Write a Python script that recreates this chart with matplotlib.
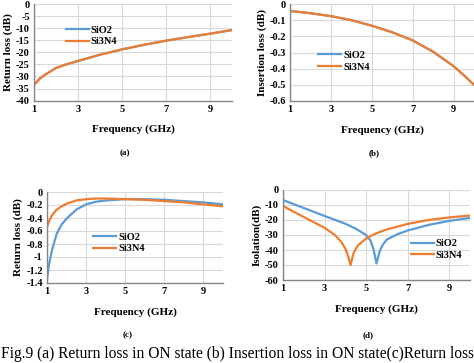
import numpy as np
import matplotlib.pyplot as plt

plt.rcParams['font.family'] = 'Liberation Serif'

BLUE = '#5B9BD5'
ORANGE = '#ED7D31'

# (a) return loss in ON state
fa = [1, 1.25, 1.5, 2, 2.5, 3, 4, 5, 6, 7, 8, 9, 10]
rl_on = [-33.5, -31.0, -29.3, -26.5, -24.9, -23.6, -21.0, -18.8, -16.9, -15.2, -13.7, -12.3, -10.8]

# (b) insertion loss in ON state
fb = [1, 2, 3, 4, 5, 6, 7, 8, 9, 9.5, 10]
il_on = [-0.043, -0.057, -0.075, -0.100, -0.134, -0.175, -0.225, -0.295, -0.385, -0.44, -0.50]

# (c) return loss in OFF state
fc = [1, 1.1, 1.25, 1.5, 1.75, 2, 2.5, 3, 3.5, 4, 5, 6, 7, 8, 9, 10]
rl_off_sio2 = [-1.35, -1.12, -0.90, -0.64, -0.50, -0.41, -0.27, -0.19, -0.15, -0.13, -0.11, -0.11, -0.12, -0.14, -0.16, -0.19]
rl_off_si3n4 = [-0.54, -0.45, -0.36, -0.27, -0.22, -0.18, -0.13, -0.11, -0.10, -0.10, -0.11, -0.12, -0.14, -0.16, -0.19, -0.22]

# (d) isolation
fd_sio2 = [1, 2, 3, 4, 4.5, 5, 5.2, 5.35, 5.5, 5.65, 5.8, 6, 6.5, 7, 8, 9, 10]
iso_sio2 = [-6.7, -12.0, -17.3, -22.5, -25.8, -30.0, -33.5, -39.0, -49.0, -41.0, -36.5, -33.0, -29.5, -27.0, -23.3, -20.6, -18.6]
fd_si3n4 = [1, 2, 3, 3.5, 3.8, 4.0, 4.12, 4.25, 4.4, 4.6, 5, 5.5, 6, 7, 8, 9, 10]
iso_si3n4 = [-10.7, -18.0, -25.2, -30.0, -34.5, -39.0, -43.5, -50.0, -42.0, -37.0, -32.3, -28.8, -26.3, -22.6, -20.0, -18.3, -17.0]

W, H = 474, 363
fig = plt.figure(figsize=(W / 100, H / 100), dpi=100)


def make_ax(left, right, top, bottom):
    return fig.add_axes([left / W, (H - bottom) / H, (right - left) / W, (bottom - top) / H])


def style(ax, ylim, yticks, ylabel):
    ax.set_xlim(1, 10)
    ax.set_ylim(*ylim)
    ax.set_xticks([1, 3, 5, 7, 9])
    ax.set_yticks(yticks)
    ax.set_yticklabels(['0' if abs(v) < 1e-9 else '%g' % v for v in yticks])
    ax.grid(True, color='#d9d9d9', linewidth=0.8)
    ax.set_axisbelow(True)
    for s in ['top', 'right']:
        ax.spines[s].set_visible(False)
    for s in ['left', 'bottom']:
        ax.spines[s].set_color('#868686')
        ax.spines[s].set_linewidth(1.0)
    ax.tick_params(length=0, labelsize=7.5, pad=3)
    for lab in ax.get_xticklabels() + ax.get_yticklabels():
        lab.set_fontweight('bold')
    ax.set_xlabel('Frequency (GHz)', fontsize=8, fontweight='bold', labelpad=8)
    ax.set_ylabel(ylabel, fontsize=8, fontweight='bold', labelpad=2)


def leg(ax, loc):
    l = ax.legend(loc='upper left', bbox_to_anchor=loc, frameon=False, fontsize=7.5,
                  handlelength=2.2, handletextpad=0.2, labelspacing=0.2, borderaxespad=0)
    for t in l.get_texts():
        t.set_fontweight('bold')


# (a)
ax = make_ax(34, 232, 4, 100.6)
ax.plot(fa, rl_on, color=BLUE, lw=1.6, label='SiO2')
ax.plot(fa, rl_on, color=ORANGE, lw=1.6, label='Si3N4')
style(ax, (-40, 0), np.arange(-40, 1, 5), 'Return loss (dB)')
leg(ax, (0.14, 0.82))

# (b)
ax = make_ax(290, 474, 4, 101)
ax.plot(fb, il_on, color=BLUE, lw=1.6, label='SiO2')
ax.plot(fb, il_on, color=ORANGE, lw=1.6, label='Si3N4')
style(ax, (-0.6, 0), np.arange(-0.6, 0.01, 0.1), 'Insertion loss (dB)')
leg(ax, (0.13, 0.56))

# (c)
ax = make_ax(47, 223, 192, 283)
ax.plot(fc, rl_off_sio2, color=BLUE, lw=1.6, label='SiO2')
ax.plot(fc, rl_off_si3n4, color=ORANGE, lw=1.6, label='Si3N4')
style(ax, (-1.4, 0), np.arange(-1.4, 0.01, 0.2), 'Return loss (dB)')
leg(ax, (0.24, 0.60))

# (d)
ax = make_ax(283, 470, 190, 280)
ax.plot(fd_sio2, iso_sio2, color=BLUE, lw=1.6, label='SiO2')
ax.plot(fd_si3n4, iso_si3n4, color=ORANGE, lw=1.6, label='Si3N4')
style(ax, (-60, 0), np.arange(-60, 1, 10), 'Isolation(dB)')
leg(ax, (0.66, 0.50))

# panel letters
for x, y, s in [(125, 153, '(a)'), (374, 153, '(b)'), (128, 335, '(c)'), (368, 335, '(d)')]:
    fig.text(x / W, 1 - y / H, s, fontsize=6.5, fontweight='bold', ha='center', va='center')

fig.text(1 / W, 1 - 354 / H, 'Fig.9 (a) Return loss in ON state (b) Insertion loss in ON state(c)Return loss',
         fontsize=11.2, ha='left', va='center')

fig.savefig('out.png', dpi=100)
